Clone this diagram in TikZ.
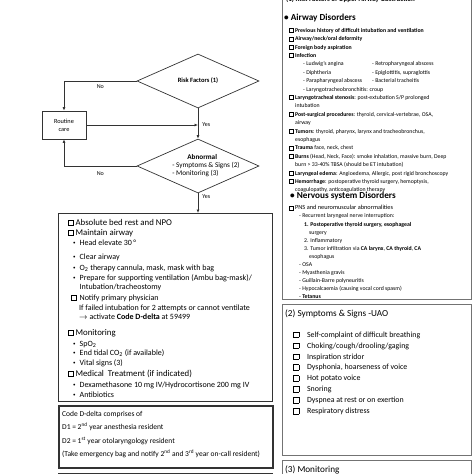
\documentclass[tikz,border=0pt]{standalone}
\usepackage{fontspec}
\setmainfont{Carlito}
\usetikzlibrary{positioning, arrows.meta, shapes.geometric}

\newcommand{\cbx}[1][3.6pt]{{\fboxsep=0pt\fboxrule=0.45pt\fbox{\rule{0pt}{#1}\rule{#1}{0pt}}}}
\newcommand{\bul}{\raisebox{0.9pt}{\fontsize{5}{5}\selectfont\textbullet}}
\newcommand{\fsz}[2]{\fontsize{#1}{#2}\selectfont}

\begin{document}
\begin{tikzpicture}[
		x=1pt, y=-1pt,
		>={Latex[length=3.5pt,width=3pt]},
		decision/.style={draw=black!80, diamond, aspect=2.26, minimum width=122pt, minimum height=54pt, inner sep=0pt, line width=0.7pt},
		plainbox/.style={draw=black!80, rectangle, line width=0.7pt, inner sep=0pt},
		panel/.style={draw=black!55, rectangle, line width=0.8pt, inner sep=0pt},
		lbl/.style={font=\fsz{6}{7}, inner sep=1pt},
		txt/.style={align=left, inner sep=0pt, anchor=north west},
		line/.style={inner sep=0pt, anchor=base west},
		arr/.style={->, line width=0.7pt, draw=black!80}
		]
		\useasboundingbox (0,0) rectangle (474,474);
		
		% 1. Flow chart
		\node[decision, font=\bfseries\fsz{6.5}{7.5}] (risk) at (198,81) {Risk Factors (1)};
		\node[plainbox, minimum width=44pt, minimum height=28pt, align=center, font=\fsz{6.3}{8}] (routine) at (64,125) {Routine\\care};
		\node[decision] (abn) at (198,166) {};
		\node[align=left, inner sep=0pt, font=\fsz{7.2}{8}] (abntxt) at ([xshift=8pt]abn.center) {\hspace*{15pt}\textbf{Abnormal}\\- Symptoms \& Signs (2)\\- Monitoring (3)};
		
		% 2. Management boxes
		\node[plainbox, anchor=north west, minimum width=214pt, minimum height=188pt] (care) at (58,213) {};
		\node[plainbox, line width=1.6pt, anchor=north west, minimum width=214pt, minimum height=62pt] (code) at (58,405) {};
		\node[plainbox, anchor=north west, minimum width=214pt, minimum height=20pt] (nextbox) at (58,473) {};
		
		% 3. Side panels
		\node[panel, anchor=north west, minimum width=189pt, minimum height=305pt] (rf) at (282,-6) {};
		\node[panel, anchor=north west, minimum width=189pt, minimum height=151pt] (ss) at (282,304) {};
		\node[panel, anchor=north west, minimum width=189pt, minimum height=30pt] (mon) at (282,460) {};
		
		% Arrows for the main flow
		\draw[arr] (risk.west) -| (routine.north) node[lbl, pos=0.25, below=2pt] {No};
		\draw[arr] (routine.east) -- (routine.east -| risk.south) node[lbl, anchor=west, xshift=3pt] {Yes};
		\draw[arr] (risk.south) -- (abn.north);
		\draw[arr] (abn.west) -| (routine.south) node[lbl, pos=0.25, below=4pt] {No};
		\draw[arr] (abn.south) -- (abn.south |- care.north) node[lbl, pos=0.15, anchor=west, xshift=3pt] {Yes};
		
		% Management text
		\node[txt, font=\fsz{8.8}{10}] (caretxt) at (68,217) {%
			\rule{0pt}{8pt}\cbx[4.5pt]\ Absolute bed rest and NPO\\
			\cbx[4.5pt]\ Maintain airway\\
			{\fsz{8}{10}\hspace*{5pt}\bul\hspace{4pt}Head elevate 30\,°}\\[4pt]
			{\fsz{8}{10}\hspace*{5pt}\bul\hspace{4pt}Clear airway}\\[1pt]
			{\fsz{8}{10}\hspace*{5pt}\bul\hspace{4pt}O\textsubscript{2} therapy cannula, mask, mask with bag}\\
			{\fsz{8}{10}\hspace*{5pt}\bul\hspace{4pt}Prepare for supporting ventilation (Ambu bag-mask)/}\\[-1pt]
			{\fsz{8}{10}\hspace*{11.5pt}Intubation/tracheostomy}\\[1pt]
			{\fsz{8}{10}\hspace*{3pt}\cbx[4.5pt]\hspace{3pt}Notify primary physician}\\
			{\fsz{8}{10}\hspace*{11pt}If failed intubation for 2 attempts or cannot ventilate}\\[-1pt]
			{\fsz{8}{10}\hspace*{11pt}$\rightarrow$ activate \textbf{Code D-delta} at 59499}\\[6pt]
			\cbx[4.5pt]\ Monitoring\\[1pt]
			{\fsz{8}{10}\hspace*{5pt}\bul\hspace{4pt}SpO\textsubscript{2}}\\[-1pt]
			{\fsz{8}{10}\hspace*{5pt}\bul\hspace{4pt}End tidal CO\textsubscript{2} (if available)}\\
			{\fsz{8}{10}\hspace*{5pt}\bul\hspace{4pt}Vital signs (3)}\\[1pt]
			\cbx[4.5pt]\ Medical\ \ Treatment (if indicated)\\[1pt]
			{\fsz{8}{10}\hspace*{5pt}\bul\hspace{4pt}Dexamethasone 10 mg IV/Hydrocortisone 200 mg IV}\\
			{\fsz{8}{10}\hspace*{5pt}\bul\hspace{4pt}Antibiotics}};
		
		\node[txt, font=\fsz{7.5}{13.5}] (codetxt) at (62,408) {%
			\rule{0pt}{8pt}Code D-delta comprises of\\
			D1 = 2\textsuperscript{nd} year anesthesia resident\\
			D2 = 1\textsuperscript{st} year otolaryngology resident\\
			(Take emergency bag and notify 2\textsuperscript{nd} and 3\textsuperscript{rd} year on-call resident)};
		
		% Risk factor panel
		\node[line, font=\bfseries\fsz{7}{8}] (rftitle) at (286,1.5) {(1) Risk Factors of Upper Airway Obstruction};
		\node[txt, font=\fsz{5.8}{8.4}] (airway) at (284,12) {%
			\rule{0pt}{8pt}{\bfseries\fsz{9.2}{8.4}\textbullet\ Airway Disorders}\\[3.6pt]
			\hspace*{5pt}\cbx\ \textbf{Previous history of difficult intubation and ventilation}\\
			\hspace*{5pt}\cbx\ \textbf{Airway/neck/oral deformity}\\
			\hspace*{5pt}\cbx\ \textbf{Foreign body aspiration}\\
			\hspace*{5pt}\cbx\ \textbf{Infection}\\
			\hspace*{19pt}\makebox[69pt][l]{- Ludwig's angina}- Retropharyngeal abscess\\
			\hspace*{19pt}\makebox[69pt][l]{- Diphtheria}- Epiglottitis, supraglottis\\
			\hspace*{19pt}\makebox[69pt][l]{- Parapharyngeal abscess}- Bacterial tracheitis\\
			\hspace*{19pt}- Laryngotracheobronchitis: croup\\
			\hspace*{5pt}\cbx\ \textbf{Laryngotracheal stenosis}: post-extubation S/P prolonged\\
			\hspace*{11pt}intubation\\
			\hspace*{5pt}\cbx\ \textbf{Post-surgical procedures}: thyroid, cervical-vertebrae, OSA,\\
			\hspace*{11pt}airway\\
			\hspace*{5pt}\cbx\ \textbf{Tumors}: thyroid, pharynx, larynx and tracheobronchus,\\
			\hspace*{11pt}esophagus\\
			\hspace*{5pt}\cbx\ \textbf{Trauma} face, neck, chest\\
			\hspace*{5pt}\cbx\ \textbf{Burns} (Head, Neck, Face): smoke inhalation, massive burn, Deep\\
			\hspace*{11pt}burn > 33-40\% TBSA (should be ET intubation)\\
			\hspace*{5pt}\cbx\ \textbf{Laryngeal edema}: Angioedema, Allergic, post rigid bronchoscopy\\
			\hspace*{5pt}\cbx\ \textbf{Hemorrhage}: postoperative thyroid surgery, hemoptysis,\\
			\hspace*{11pt}coagulopathy, anticoagulation therapy};
		\node[txt, font=\fsz{5.8}{8.1}] (nervous) at (289,190.5) {%
			\rule{0pt}{8pt}\hspace*{1pt}{\bfseries\fsz{9.2}{8.1}\textbullet\ Nervous system Disorders}\\[3pt]
			{\fsz{6.3}{8.1}\cbx\ PNS and neuromuscular abnormalities}\\
			\hspace*{10pt}- Recurrent laryngeal nerve interruption:\\
			\hspace*{15pt}\textbf{1. Postoperative thyroid surgery, esophageal}\\
			\hspace*{20pt}surgery\\
			\hspace*{15pt}2. Inflammatory\\
			\hspace*{15pt}3. Tumor infiltration via \textbf{CA larynx}, \textbf{CA thyroid}, \textbf{CA}\\
			\hspace*{20pt}esophagus\\
			\hspace*{10pt}- OSA\\
			\hspace*{10pt}- Myasthenia gravis\\
			\hspace*{10pt}- Guillain-Barre polyneuritis\\
			\hspace*{10pt}- Hypocalcaemia (causing vocal cord spasm)\\
			\hspace*{10pt}- \textbf{Tetanus}};
		
		% Symptoms panel
		\node[line, font=\fsz{9.2}{10}] (sstitle) at (285,316) {(2) Symptoms \& Signs -UAO};
		\node[txt, font=\fsz{7.9}{10.9}] (sstxt) at (293,330) {%
			\rule{0pt}{7pt}\cbx[5pt]\hspace{8pt}Self-complaint of difficult breathing\\
			\cbx[5pt]\hspace{8pt}Choking/cough/drooling/gaging\\
			\cbx[5pt]\hspace{8pt}Inspiration stridor\\
			\cbx[5pt]\hspace{8pt}Dysphonia, hoarseness of voice\\
			\cbx[5pt]\hspace{8pt}Hot potato voice\\
			\cbx[5pt]\hspace{8pt}Snoring\\
			\cbx[5pt]\hspace{8pt}Dyspnea at rest or on exertion\\
			\cbx[5pt]\hspace{8pt}Respiratory distress};
		
		% Monitoring panel
		\node[line, font=\fsz{9.2}{10}] (montitle) at (285,472) {(3) Monitoring};
		
	\end{tikzpicture}
\end{document}
